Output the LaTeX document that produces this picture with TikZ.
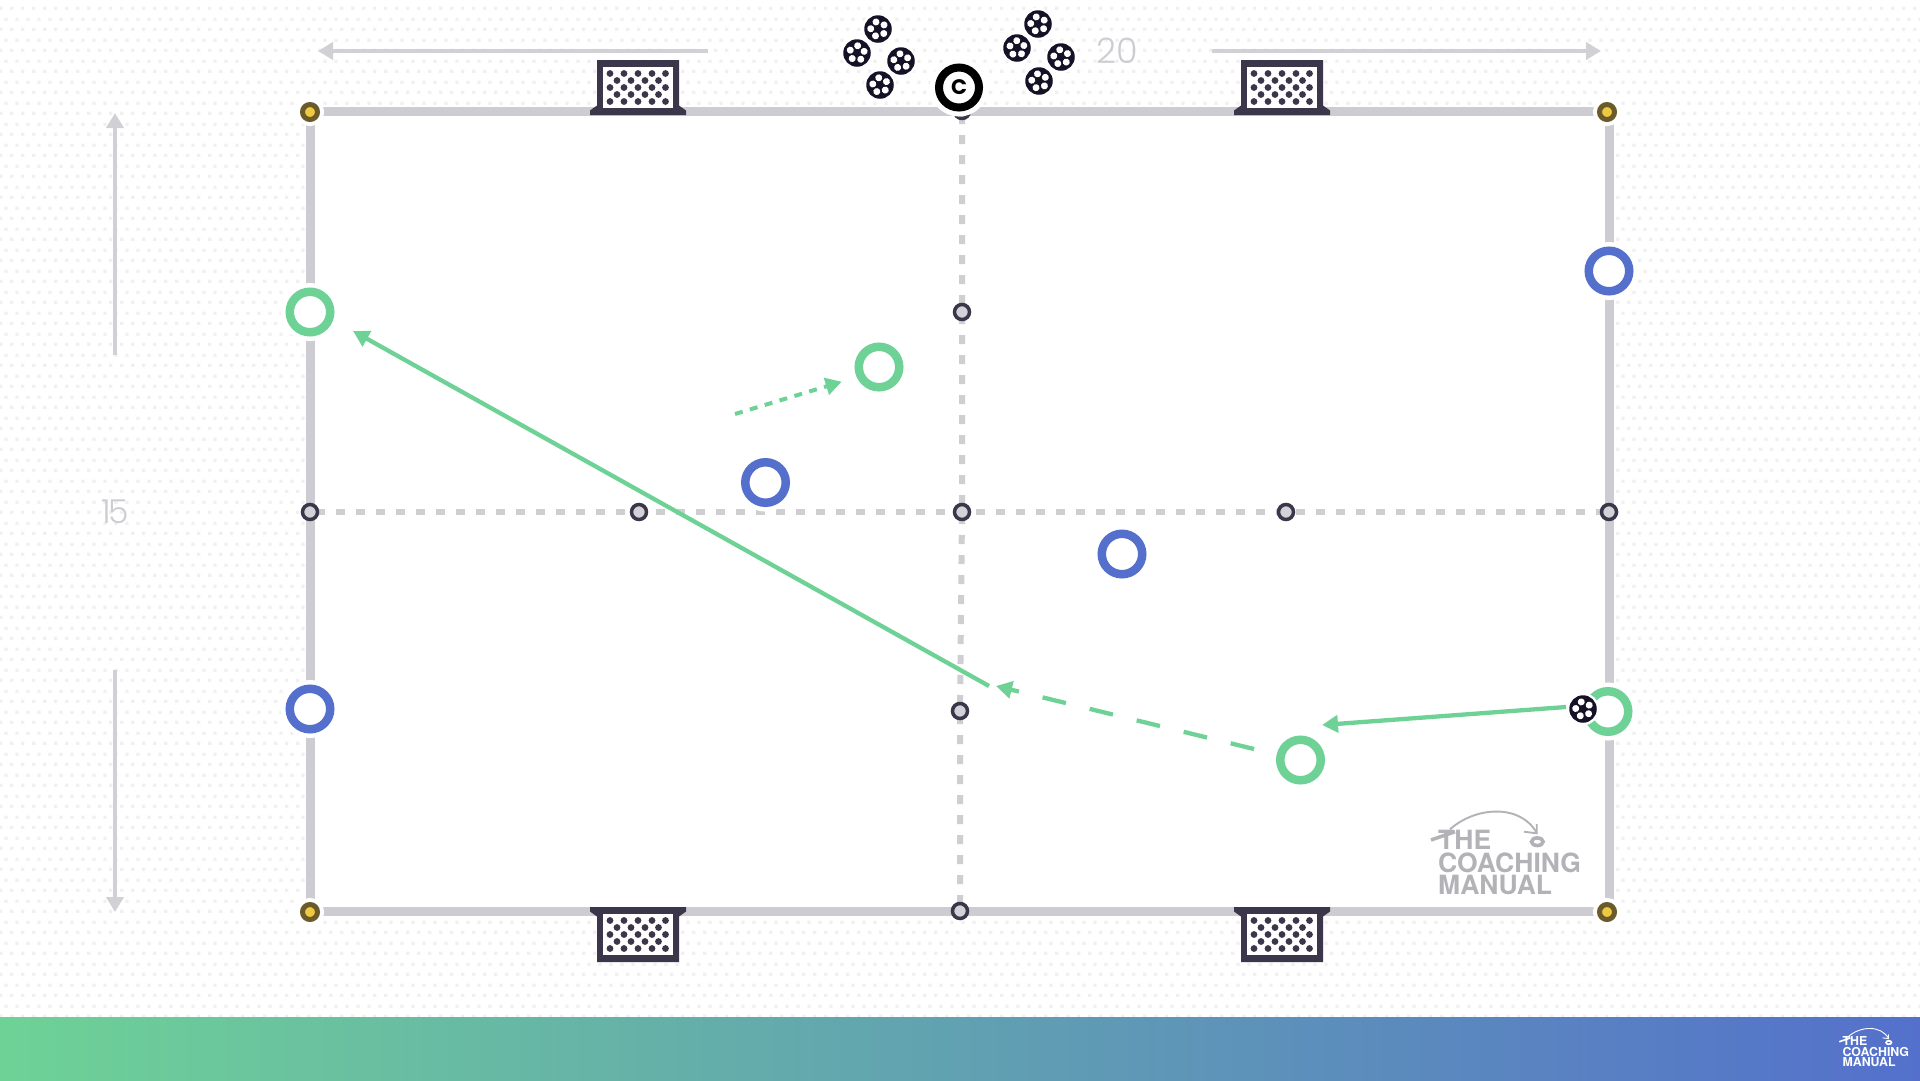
\documentclass[tikz,border=0pt]{standalone}
\usepackage{fontspec}
\usetikzlibrary{arrows.meta,patterns}
\setmainfont{TeX Gyre Heros}
\newfontfamily\numfont{Poppins Light}
\newfontfamily\coachfont{Poppins}
\definecolor{linegrey}{HTML}{CCCCD2}
\definecolor{measgrey}{HTML}{D0D0D5}
\definecolor{dashgrey}{HTML}{CFCFD2}
\definecolor{dotgrey}{HTML}{F0F0F0}
\definecolor{pgreen}{HTML}{6ED296}
\definecolor{pblue}{HTML}{5470CC}
\definecolor{ink}{HTML}{151127}
\definecolor{goalink}{HTML}{3B3649}
\definecolor{logogrey}{HTML}{B2B2B7}
\definecolor{cornerring}{HTML}{6B5A2A}
\definecolor{corneryellow}{HTML}{EFC93F}
\definecolor{markerfill}{HTML}{D2D2D8}
\pgfdeclarepatternformonly{grounddots}{\pgfqpoint{0pt}{0pt}}{\pgfqpoint{11.33pt}{21pt}}{\pgfqpoint{11.33pt}{21pt}}{
  \pgfpathrectangle{\pgfqpoint{0pt}{0pt}}{\pgfqpoint{3.6pt}{3.6pt}}
  \pgfpathrectangle{\pgfqpoint{5.66pt}{10.5pt}}{\pgfqpoint{3.6pt}{3.6pt}}
  \pgfusepath{fill}
}
\pgfdeclarelayer{back}
\pgfsetlayers{back,main}
\def\lw{1}
\tikzset{
  x=1pt,y=-1pt,
  fieldline/.style={draw=linegrey,line width=9pt},
  midline/.style={draw=dashgrey,line width=6pt,dash pattern=on 9pt off 11pt},
  measure/.style={draw=measgrey,line width=4.5pt,-{Triangle[length=15pt,width=17pt]}},
  passline/.style={draw=pgreen,line width=4.3pt,-{Triangle[length=16pt,width=17pt]}},
  player/.style={circle,draw=#1,line width=8.5pt,fill=white,minimum size=40.5pt,inner sep=0pt,outer sep=0pt,preaction={draw=white,line width=17.5pt}},
  cornermark/.style={circle,draw=cornerring,line width=5pt,fill=corneryellow,minimum size=15pt,inner sep=0pt,outer sep=0pt,preaction={draw=white,line width=13pt}},
  gridmark/.style={circle,draw=goalink,line width=3.5pt,fill=markerfill,minimum size=15pt,inner sep=0pt,outer sep=0pt},
  ballbody/.style={circle,fill=ink,minimum size=27.5pt,inner sep=0pt,outer sep=0pt,preaction={draw=white,line width=5pt}},
  logotext/.style={anchor=base west,inner sep=0pt,font=\bfseries\fontsize{26.5}{26.5}\selectfont,transform shape},
  pics/ballicon/.style={code={
    \node[ballbody] (-body) at (0,0) {};
    \foreach \a in {0,72,144,216,288} \fill[white,rotate=#1] (\a:7.3) circle (3.5);
  }},
  pics/goalicon/.style={code={
    \fill[goalink] (-41,-27.5) -- (41,-27.5) -- (41,18) -- (48,23) -- (48,27.5) -- (-48,27.5) -- (-48,23) -- (-41,18) -- cycle;
    \fill[white] (-35,-20.5) rectangle (34.5,20.5);
    \foreach \yy in {-14,0,14} \foreach \xx in {-28,-14,0,14,27.5} \fill[goalink] (\xx,\yy) circle (3.4);
    \foreach \yy in {-7,7} \foreach \xx in {-21,-7,7,20.5} \fill[goalink] (\xx,\yy) circle (3.4);
  }},
  pics/logoicon/.style={code={
    \node[logotext,text=#1] (-a) at (0,17) {THE};
    \node[logotext,text=#1] (-b) at (0,40) {COACHING};
    \node[logotext,text=#1] (-c) at (0,62) {MANUAL};
    \draw[#1,line width=\lw*3.5pt] (-7,8) -- (17,-0.3);
    \draw[#1,line width=\lw*1.9pt] (12,-2.7) .. controls (38,-26) and (83,-28) .. (98.7,1);
    \draw[#1,line width=\lw*1.9pt] (86,-0.3) -- (98.7,1.3) -- (98.7,-8);
    \draw[#1,line width=\lw*3.6pt] (99.3,9.7) ellipse (5.8 and 3.8);
  }}
}
\begin{document}
\begin{tikzpicture}
\useasboundingbox (0,0) rectangle (1920,1080);
\coordinate (tl) at (310,111.5); \coordinate (tr) at (1609.5,111.5);
\coordinate (bl) at (310,911.5); \coordinate (br) at (1609.5,911.5);
\begin{pgfonlayer}{back}
% dotted ground
\fill[pattern=grounddots,pattern color=dotgrey] (0,0) rectangle (1920,1017);
\fill[white] (310,111) rectangle (1609,911);
% gradient bar
\shade[left color=pgreen,right color=pblue] (0,1017) rectangle (1920,1080);
% field
\draw[fieldline] (tl) -- (tr);
\draw[fieldline] (bl) -- (br);
\draw[fieldline] (tl) -- (bl);
\draw[fieldline] (tr) -- (br);
\end{pgfonlayer}
% grid markers
\node[gridmark] (mtop) at (962,111) {};
\node[gridmark] (mup) at (962,312) {};
\node[gridmark] (mleft) at (310,512) {};
\node[gridmark] (mql) at (639,512) {};
\node[gridmark] (mc) at (962,512) {};
\node[gridmark] (mqr) at (1286,512) {};
\node[gridmark] (mright) at (1609,512) {};
\node[gridmark] (mlow) at (960,711) {};
\node[gridmark] (mbot) at (960,911) {};
\begin{pgfonlayer}{back}
\draw[midline,dash phase=14.3pt] (mleft.center) -- (mql.center) -- (mc.center) -- (mqr.center) -- (mright.center);
\draw[midline,dash phase=16pt] (mtop.center) -- (mup.center) -- (mc.center) -- (mlow.center) -- (mbot.center);
\end{pgfonlayer}
% corners
\node[cornermark] (c1) at (310,112) {};
\node[cornermark] (c2) at (1607,112) {};
\node[cornermark] (c3) at (310,912) {};
\node[cornermark] (c4) at (1607,912) {};
% goals
\pic (g1) at (638,87.5) {goalicon};
\pic (g2) at (1282,87.5) {goalicon};
\pic[yscale=-1] (g3) at (638,934.5) {goalicon};
\pic[yscale=-1] (g4) at (1282,934.5) {goalicon};
% measures
\coordinate (m1a) at (708,51); \coordinate (m1b) at (318,51);
\coordinate (m2a) at (1212,51); \coordinate (m2b) at (1601,51);
\coordinate (m3a) at (115,355); \coordinate (m3b) at (115,113);
\coordinate (m4a) at (115,670); \coordinate (m4b) at (115,912);
\draw[measure] (m1a) -- (m1b);
\draw[measure] (m2a) -- (m2b);
\draw[measure] (m3a) -- (m3b);
\draw[measure] (m4a) -- (m4b);
\node[text=linegrey,font=\numfont\fontsize{35}{35}\selectfont,inner sep=0pt] (w) at (1117,51) {20};
\node[text=linegrey,font=\numfont\fontsize{33}{33}\selectfont,inner sep=0pt] (h) at (115,512) {1\kern-2pt 5};
% players
\node[player=pgreen] (g_a) at (310,312) {};
\node[player=pgreen] (g_b) at (879,367) {};
\node[player=pgreen] (g_c) at (1300.5,760) {};
\node[player=pgreen] (g_d) at (1608,711.5) {};
\node[player=pblue] (b_a) at (1609,271) {};
\node[player=pblue] (b_b) at (310,709) {};
\node[player=pblue] (b_c) at (765.5,482.5) {};
\node[player=pblue] (b_d) at (1122,554) {};
% passes and runs
\coordinate (p1) at (989,686); \coordinate (p1e) at (353,331);
\coordinate (p2) at (1254,749); \coordinate (p2e) at (996,686);
\coordinate (p3) at (735,414); \coordinate (p3e) at (841.7,381.7);
\coordinate (p4) at (1566,707); \coordinate (p4e) at (1322,725);
\draw[passline] (p1) -- (p1e);
\draw[passline,dash pattern=on 24pt off 24.4pt] (p2) -- (p2e);
\draw[passline,line width=4pt,dash pattern=on 8pt off 7.5pt] (p3) -- (p3e);
\draw[passline] (p4) -- (p4e);
% balls
\pic (ba) at (1583,709) {ballicon=32};
\pic (b1) at (878,29) {ballicon=34};
\pic (b2) at (857,53) {ballicon=13};
\pic (b3) at (901,61) {ballicon=26};
\pic (b4) at (880,85) {ballicon=28};
\pic (b5) at (1038,24) {ballicon=32};
\pic (b6) at (1017,48) {ballicon=20};
\pic (b7) at (1061,57) {ballicon=28};
\pic (b8) at (1039,81) {ballicon=30};
% coach
\node[circle,draw=black,line width=8pt,fill=white,minimum size=40pt,inner sep=0pt,outer sep=0pt,preaction={draw=white,line width=18pt},text=black,font=\coachfont\bfseries\fontsize{21}{21}\selectfont] (coach) at (959,87.5) {C};
% logos
\pic (l1) at (1438,832) {logoicon=logogrey};
\def\lw{0.466}
\pic[scale=0.466,transform shape] (l2) at (1842.5,1038) {logoicon=white};
\end{tikzpicture}
\end{document}
